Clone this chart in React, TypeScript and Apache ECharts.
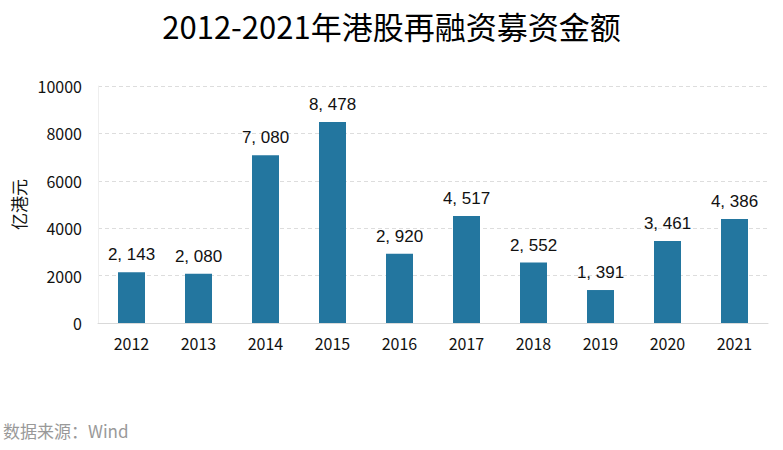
import React, { useEffect, useRef } from "react";
import * as echarts from "echarts";

const categories = ["2012", "2013", "2014", "2015", "2016", "2017", "2018", "2019", "2020", "2021"];
const values = [2143, 2080, 7080, 8478, 2920, 4517, 2552, 1391, 3461, 4386];
const yTicks = { min: 0, max: 10000, interval: 2000 };
const titleText = "2012-2021年港股再融资募资金额";
const yName = "亿港元";
const sourceText = "数据来源：Wind";

const fmt = (v: number) => {
  const s = String(v);
  return s.length > 3 ? s.slice(0, s.length - 3) + ", " + s.slice(s.length - 3) : s;
};

export default function App() {
  const ref = useRef<HTMLDivElement>(null);
  useEffect(() => {
    if (!ref.current) return;
    const chart = echarts.init(ref.current, null, { renderer: "svg" });
    const font = "'Noto Sans CJK SC', 'Noto Sans', sans-serif";
    chart.setOption({
      animation: false,
      backgroundColor: "#ffffff",
      title: {
        text: titleText,
        left: "center",
        top: 5,
        textStyle: { fontSize: 31, fontWeight: "normal", color: "#000", fontFamily: font },
      },
      graphic: [
        {
          type: "text",
          left: 3,
          top: 422,
          style: { text: sourceText, fontSize: 17, fill: "#999", fontFamily: font },
        },
      ],
      grid: { left: 98, right: 15, top: 86, bottom: 127, containLabel: false },
      xAxis: {
        type: "category",
        data: categories,
        axisLine: { show: true, lineStyle: { color: "#d9d9d9" } },
        axisTick: { show: false },
        axisLabel: { color: "#111", fontSize: 16, margin: 12, fontFamily: font },
      },
      yAxis: {
        type: "value",
        min: yTicks.min,
        max: yTicks.max,
        interval: yTicks.interval,
        name: yName,
        nameLocation: "middle",
        nameGap: 70,
        nameTextStyle: { color: "#111", fontSize: 17, fontFamily: font },
        axisLine: { show: true, lineStyle: { color: "#eeeeee" } },
        axisTick: { show: false },
        axisLabel: {
          color: "#111",
          fontSize: 16,
          margin: 16,
          fontFamily: font,
          formatter: (v: number) => String(v),
        },
        splitLine: { show: true, lineStyle: { color: "#dddddd", type: [4, 3] } },
      },
      series: [
        {
          type: "bar",
          data: values,
          barWidth: 27,
          itemStyle: { color: "#23769f" },
          z: 2,
          label: {
            show: true,
            position: "top",
            distance: 9,
            color: "#111",
            fontSize: 17,
            fontFamily: "Liberation Sans, Arial, sans-serif",
            formatter: (p: any) => fmt(p.value),
          },
        },
      ],
    });
    return () => chart.dispose();
  }, []);
  return <div ref={ref} style={{ position: "absolute", left: 0, top: 0, width: 783, height: 450 }} />;
}
